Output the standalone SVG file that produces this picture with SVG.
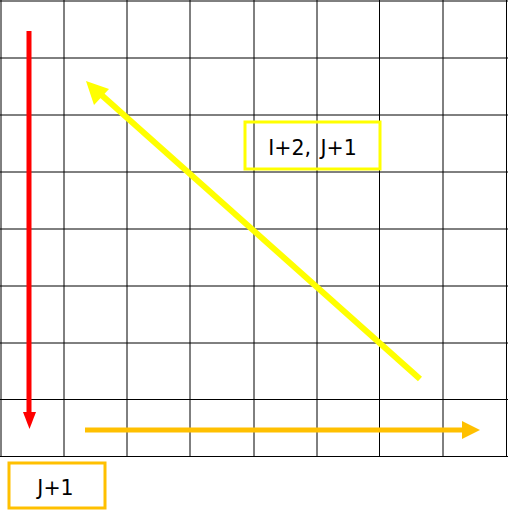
<svg xmlns="http://www.w3.org/2000/svg" width="508" height="518" viewBox="0 0 508 518">
<style>
.grid line{stroke:#000;stroke-width:1}
.lbl{font-family:"DejaVu Sans","Noto Sans",sans-serif;font-size:20.5px;fill:#000;text-anchor:middle}
</style>
<rect width="508" height="518" fill="#fff"/>
<g class="grid" id="grid">
<line x1="1" y1="0" x2="1" y2="457"/>
<line x1="64" y1="0" x2="64" y2="457"/>
<line x1="127" y1="0" x2="127" y2="457"/>
<line x1="190" y1="0" x2="190" y2="457"/>
<line x1="254" y1="0" x2="254" y2="457"/>
<line x1="317" y1="0" x2="317" y2="457"/>
<line x1="379.5" y1="0" x2="379.5" y2="457"/>
<line x1="443" y1="0" x2="443" y2="457"/>
<line x1="506.5" y1="0" x2="506.5" y2="457"/>
<line x1="0" y1="1" x2="508" y2="1"/>
<line x1="0" y1="58" x2="508" y2="58"/>
<line x1="0" y1="115" x2="508" y2="115"/>
<line x1="0" y1="172" x2="508" y2="172"/>
<line x1="0" y1="229" x2="508" y2="229"/>
<line x1="0" y1="286" x2="508" y2="286"/>
<line x1="0" y1="343" x2="508" y2="343"/>
<line x1="0" y1="399.5" x2="508" y2="399.5"/>
<line x1="0" y1="456.5" x2="508" y2="456.5"/>
</g>
<g id="connectors">
<line x1="29" y1="31" x2="29" y2="413" stroke="#FF0000" stroke-width="5"/>
<polygon points="23,412 36,412 29.5,429" fill="#FF0000"/>
<line x1="85" y1="430" x2="463" y2="430" stroke="#FFC000" stroke-width="5"/>
<polygon points="462,421 462,439 480,430" fill="#FFC000"/>
<line x1="420" y1="379" x2="97" y2="91" stroke="#FFFF00" stroke-width="6"/>
<polygon points="86,81 109,89 94,105" fill="#FFFF00"/>
</g>
<g id="label-ij">
<rect x="245" y="122" width="135" height="47" fill="none" stroke="#FFFF00" stroke-width="3"/>
<text class="lbl" x="312.5" y="155" word-spacing="3">I+2, J+1</text>
</g>
<g id="label-j">
<rect x="9" y="463" width="96" height="45" fill="none" stroke="#FFC000" stroke-width="3"/>
<text class="lbl" x="55.5" y="495">J+1</text>
</g>
</svg>
